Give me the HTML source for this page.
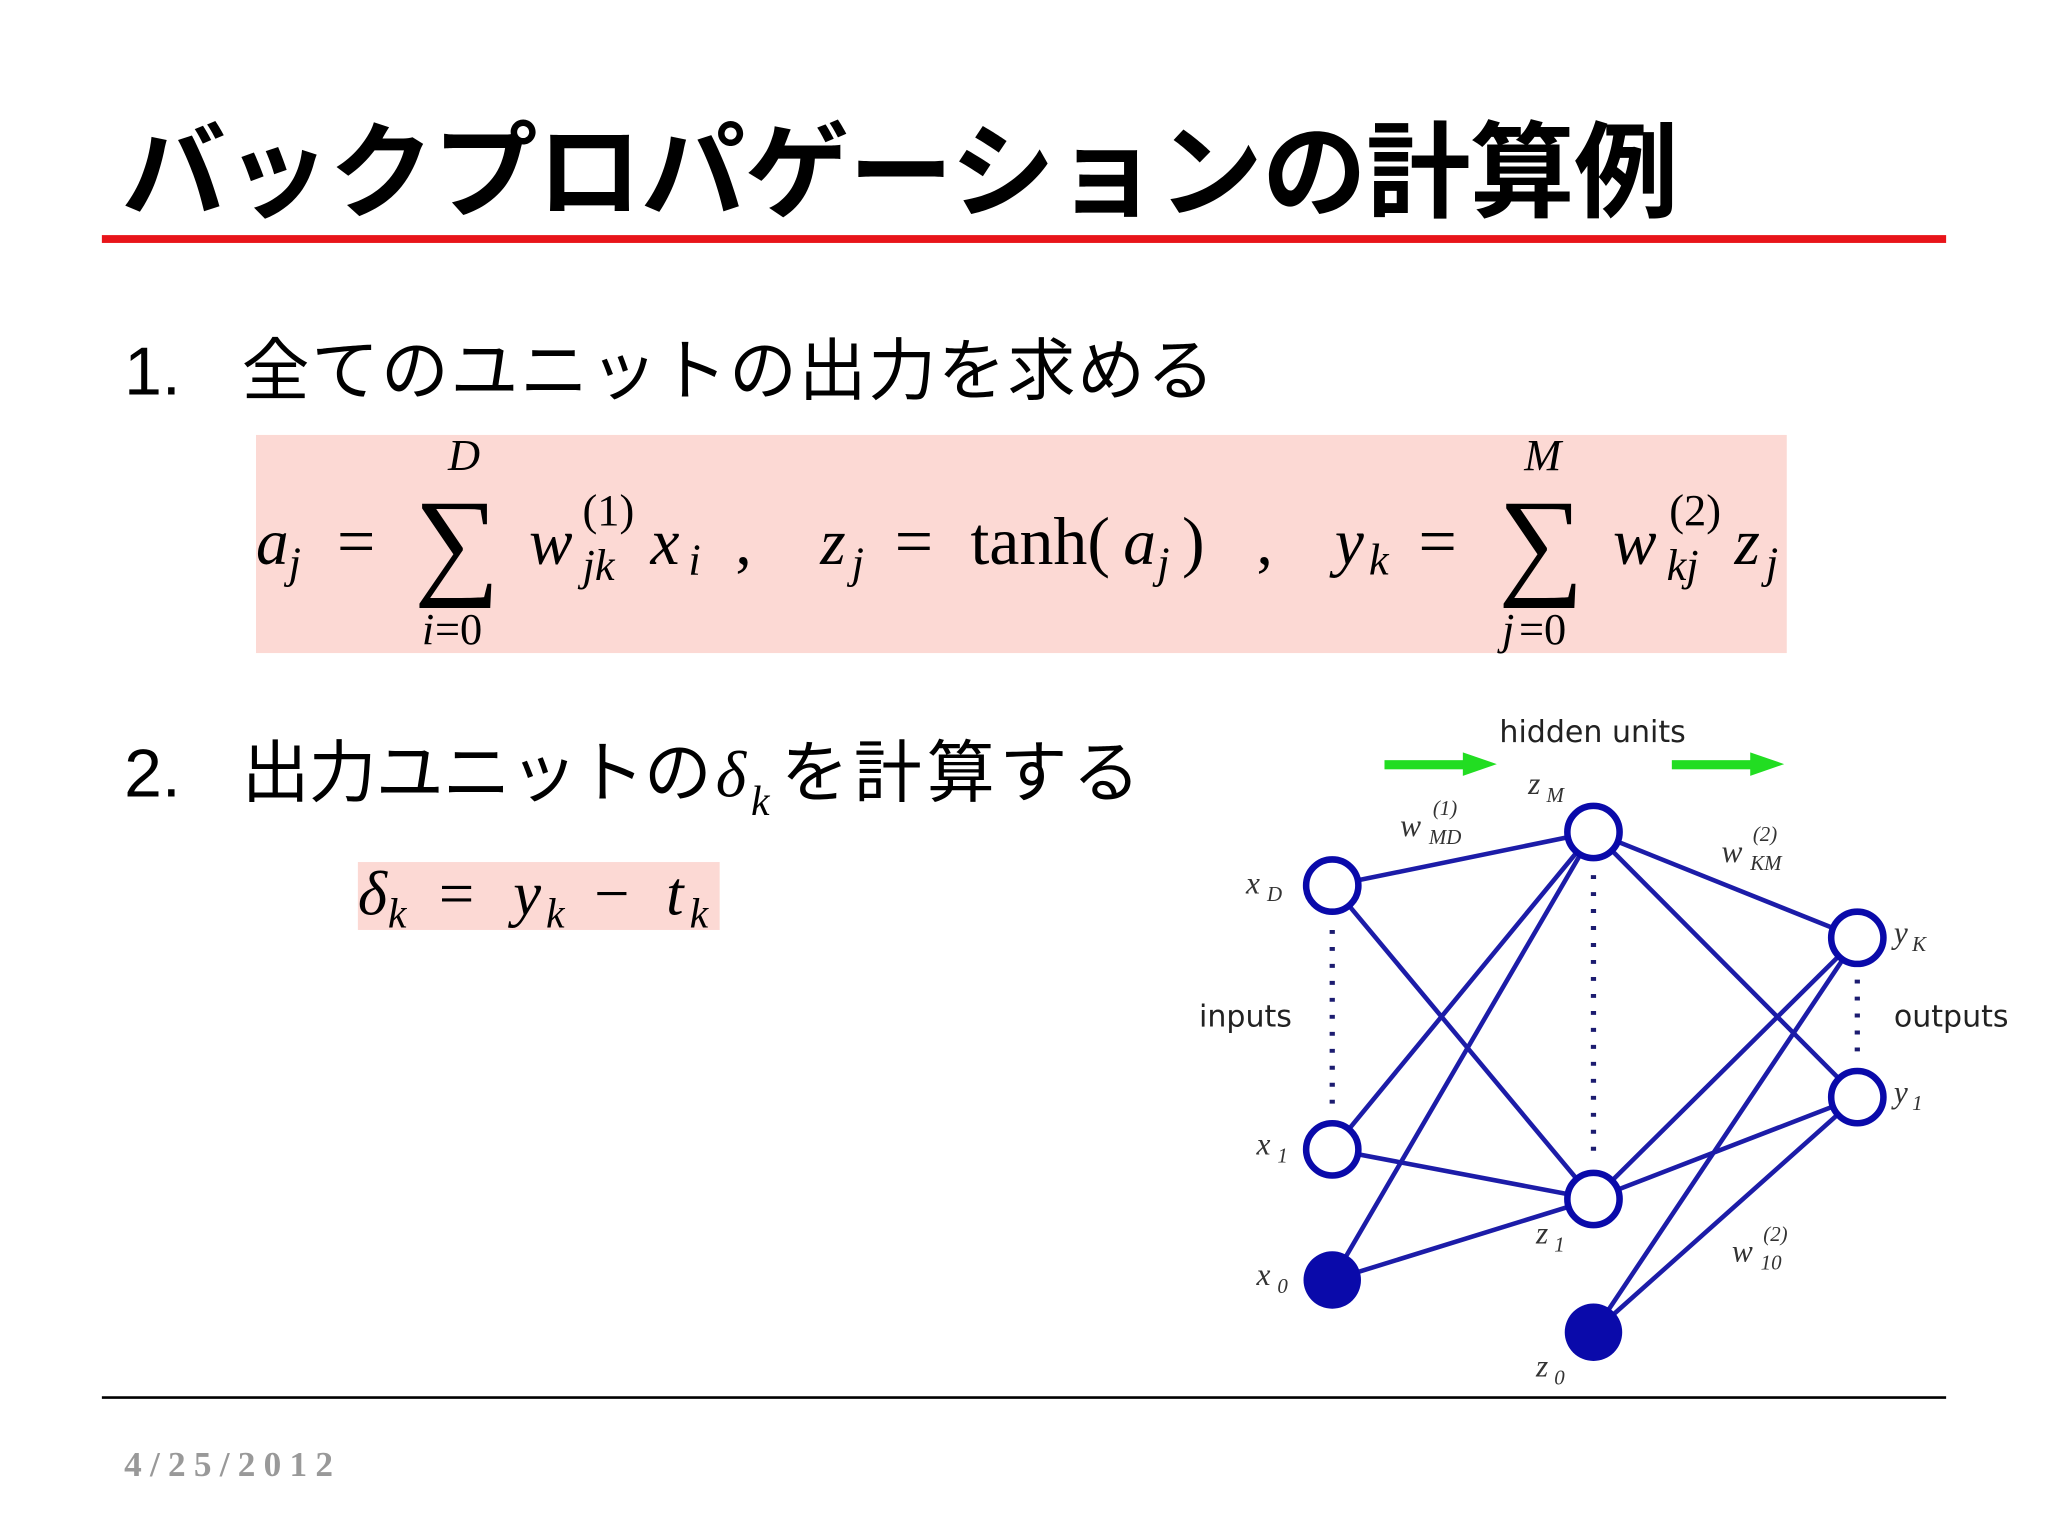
<!DOCTYPE html>
<html><head><meta charset="utf-8"><style>
html,body{margin:0;padding:0;background:#fff;}
svg{display:block;}
.m{font-family:"Liberation Serif","DejaVu Serif",serif;font-style:italic;}
.r{font-family:"Liberation Serif","DejaVu Serif",serif;}
.j{font-family:"Liberation Sans","Noto Sans CJK JP",sans-serif;}
.s{font-family:"DejaVu Sans","Liberation Sans",sans-serif;}
</style></head><body>
<svg width="2048" height="1536" viewBox="0 0 1568 1176" xmlns="http://www.w3.org/2000/svg">
<rect width="1568" height="1176" fill="#fff"/>
<text x="93" y="160" class="j" font-size="80" font-weight="bold" fill="#000" textLength="1192">バックプロパゲーションの計算例</text>
<rect x="78" y="180" width="1412" height="6" fill="#e8141a"/>
<text x="95" y="302" class="j" font-size="52" fill="#000">1.</text>
<text x="185" y="302" class="j" font-size="52" fill="#000" textLength="745">全てのユニットの出力を求める</text>
<rect x="196" y="333" width="1172" height="167" fill="#fcd9d4"/>
<g fill="#000">
<text x="196" y="432" class="m" font-size="50">a</text><text x="221" y="442" class="m" font-size="34">j</text>
<text x="258" y="432" class="r" font-size="52">=</text>
<text x="317" y="446" class="r" font-size="92">∑</text>
<text x="343" y="360" class="m" font-size="34">D</text>
<text x="323" y="493" class="m" font-size="34">i</text><text x="333" y="493" class="r" font-size="34">=0</text>
<text x="405" y="432" class="m" font-size="50">w</text>
<text x="446" y="402" class="r" font-size="34">(1)</text>
<text x="446" y="444" class="m" font-size="34">jk</text>
<text x="498" y="432" class="m" font-size="50">x</text><text x="527" y="440" class="m" font-size="34">i</text>
<text x="563" y="432" class="r" font-size="50">,</text>
<text x="628" y="432" class="m" font-size="50">z</text><text x="652" y="442" class="m" font-size="34">j</text>
<text x="685" y="432" class="r" font-size="52">=</text>
<text x="743" y="432" class="r" font-size="52">tanh(</text>
<text x="860" y="432" class="m" font-size="50">a</text><text x="886" y="442" class="m" font-size="34">j</text>
<text x="905" y="432" class="r" font-size="52">)</text>
<text x="962" y="432" class="r" font-size="50">,</text>
<text x="1022" y="432" class="m" font-size="50">y</text><text x="1048" y="440" class="m" font-size="34">k</text>
<text x="1086" y="432" class="r" font-size="52">=</text>
<text x="1147" y="446" class="r" font-size="92">∑</text>
<text x="1167" y="360" class="m" font-size="34">M</text>
<text x="1150" y="493" class="m" font-size="34">j</text><text x="1163" y="493" class="r" font-size="34">=0</text>
<text x="1235" y="432" class="m" font-size="50">w</text>
<text x="1278" y="402" class="r" font-size="34">(2)</text>
<text x="1276" y="444" class="m" font-size="34">kj</text>
<text x="1328" y="432" class="m" font-size="50">z</text><text x="1352" y="442" class="m" font-size="34">j</text>
</g>
<text x="95" y="610" class="j" font-size="52" fill="#000">2.</text>
<text x="185" y="610" class="j" font-size="52" fill="#000" textLength="360">出力ユニットの</text>
<text x="548" y="610" class="m" font-size="50" fill="#000">δ</text>
<text x="575" y="624" class="m" font-size="32" fill="#000">k</text>
<text x="598" y="610" class="j" font-size="52" fill="#000" textLength="275">を計算する</text>
<rect x="274" y="660" width="277" height="52" fill="#fcd9d4"/>
<g fill="#000">
<text x="274" y="700" class="m" font-size="48">δ</text><text x="297" y="710" class="m" font-size="32">k</text>
<text x="336" y="700" class="r" font-size="48">=</text>
<text x="393" y="700" class="m" font-size="48">y</text><text x="418" y="710" class="m" font-size="32">k</text>
<text x="455" y="700" class="r" font-size="48">−</text>
<text x="510" y="700" class="m" font-size="48">t</text><text x="528" y="710" class="m" font-size="32">k</text>
</g>
<g stroke="#1c1ca8" stroke-width="3.5" fill="none">
<line x1="1020" y1="678" x2="1220" y2="637"/>
<line x1="1020" y1="678" x2="1220" y2="918"/>
<line x1="1020" y1="880" x2="1220" y2="637"/>
<line x1="1020" y1="880" x2="1220" y2="918"/>
<line x1="1020" y1="980" x2="1220" y2="637"/>
<line x1="1020" y1="980" x2="1220" y2="918"/>
<line x1="1220" y1="637" x2="1422" y2="718"/>
<line x1="1220" y1="637" x2="1422" y2="840"/>
<line x1="1220" y1="918" x2="1422" y2="718"/>
<line x1="1220" y1="918" x2="1422" y2="840"/>
<line x1="1220" y1="1020" x2="1422" y2="718"/>
<line x1="1220" y1="1020" x2="1422" y2="840"/>
</g>
<g stroke="#1c1c70" stroke-width="4" stroke-dasharray="3 10" fill="none">
<line x1="1020" y1="712" x2="1020" y2="850"/>
<line x1="1220" y1="670" x2="1220" y2="890"/>
<line x1="1422" y1="750" x2="1422" y2="810"/>
</g>
<g stroke="#0a0aaa" stroke-width="5" fill="#fff">
<circle cx="1020" cy="678" r="20"/>
<circle cx="1020" cy="880" r="20"/>
<circle cx="1220" cy="637" r="20"/>
<circle cx="1220" cy="918" r="20"/>
<circle cx="1422" cy="718" r="20"/>
<circle cx="1422" cy="840" r="20"/>
</g>
<circle cx="1020" cy="980" r="22" fill="#0a0aaa"/>
<circle cx="1220" cy="1020" r="22" fill="#0a0aaa"/>
<g fill="#22dd22">
<rect x="1060" y="582" width="64" height="7"/><polygon points="1120,576 1146,585 1120,594"/>
<rect x="1280" y="582" width="64" height="7"/><polygon points="1340,576 1366,585 1340,594"/>
</g>
<g fill="#222">
<text x="1148" y="568" class="s" font-size="23">hidden units</text>
<text x="918" y="786" class="s" font-size="23">inputs</text>
<text x="1450" y="786" class="s" font-size="23">outputs</text>
</g>
<g fill="#333" class="m">
<text x="954" y="684" font-size="24">x</text><text x="970" y="690" font-size="16">D</text>
<text x="962" y="884" font-size="24">x</text><text x="978" y="890" font-size="16">1</text>
<text x="962" y="984" font-size="24">x</text><text x="978" y="990" font-size="16">0</text>
<text x="1170" y="608" font-size="24">z</text><text x="1184" y="614" font-size="16">M</text>
<text x="1176" y="952" font-size="24">z</text><text x="1190" y="958" font-size="16">1</text>
<text x="1176" y="1054" font-size="24">z</text><text x="1190" y="1060" font-size="16">0</text>
<text x="1450" y="722" font-size="24">y</text><text x="1464" y="728" font-size="16">K</text>
<text x="1450" y="844" font-size="24">y</text><text x="1464" y="850" font-size="16">1</text>
<text x="1072" y="640" font-size="24">w</text><text x="1097" y="624" font-size="16" class="r">(1)</text><text x="1094" y="646" font-size="16">MD</text>
<text x="1318" y="660" font-size="24">w</text><text x="1342" y="644" font-size="16" class="r">(2)</text><text x="1340" y="666" font-size="16">KM</text>
<text x="1326" y="966" font-size="24">w</text><text x="1350" y="950" font-size="16" class="r">(2)</text><text x="1348" y="972" font-size="16" class="r">10</text>
</g>
<rect x="78" y="1069" width="1412" height="2" fill="#000"/>
<text x="95" y="1130" class="r" font-size="27" font-weight="bold" fill="#999" textLength="160">4/25/2012</text>
</svg>
</body></html>
